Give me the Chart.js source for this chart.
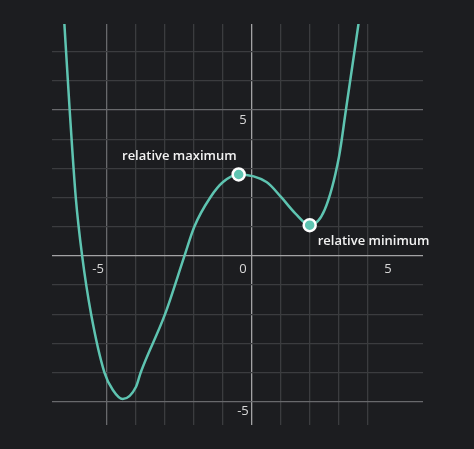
<!DOCTYPE html>
<html>
<head>
<meta charset="utf-8">
<script src="https://cdn.jsdelivr.net/npm/chart.js@4.4.0/dist/chart.umd.min.js"></script>
<style>
  html, body { margin: 0; padding: 0; background: #1c1d20; }
  #wrap { width: 474px; height: 449px; }
</style>
</head>
<body>
<div id="wrap"><canvas id="myChart"></canvas></div>
<script>
// curve
const curveX = [-6.5, -6.29, -6.08, -5.86, -5.55, -5.09, -4.8, -4.46, -4.0, -3.84, -3.0, -2.33, -1.99, -1.44, -1.0, -0.46, 0.5, 1.0, 1.5, 1.99, 2.5, 3.0, 3.24, 3.74];
const curveY = [8.4, 5, 2, 0, -2, -4, -4.6, -4.91, -4.49, -4, -2, 0, 1, 2, 2.53, 2.79, 2.53, 2.02, 1.45, 1.05, 1.56, 3.39, 5, 8.4];

const extremaX = [-0.46, 1.99];
const extremaY = [2.79, 1.05];
const extremaLabels = ['relative maximum', 'relative minimum'];

const xTicks = [-5, 0, 5];
const yTicks = [5, -5];

const teal = '#5ec4b1';

function gridColor(c) {
    const v = c.tick.value;
    if (v === 0) return '#a3a3a5';
    if (!Number.isInteger(v)) return 'rgba(0,0,0,0)';
    if (Math.abs(v) === 5) return '#68696c';
    return '#3b3c3f';
}

const labelsPlugin = {
    id: 'labels',
    afterDatasetsDraw(chart) {
        const c = chart.ctx;
        const xs = chart.scales.x, ys = chart.scales.y;
        c.save();
        c.font = '13px "Open Sans", sans-serif';
        c.fillStyle = '#d8d8d8';
        c.textAlign = 'center';
        c.textBaseline = 'middle';
        xTicks.forEach(v => c.fillText(String(v), xs.getPixelForValue(v) - 9, ys.getPixelForValue(0) + 13));
        yTicks.forEach(v => c.fillText(String(v), xs.getPixelForValue(0) - 9, ys.getPixelForValue(v) + 10));
        c.font = '600 13px "Open Sans", sans-serif';
        c.fillStyle = '#f2f2f2';
        c.textAlign = 'right';
        c.fillText(extremaLabels[0], xs.getPixelForValue(extremaX[0]) - 2, ys.getPixelForValue(extremaY[0]) - 18);
        c.textAlign = 'left';
        c.fillText(extremaLabels[1], xs.getPixelForValue(extremaX[1]) + 8, ys.getPixelForValue(extremaY[1]) + 16);
        c.restore();
    }
};

new Chart(document.getElementById('myChart'), {
    type: 'scatter',
    data: {
        datasets: [
            {
                data: extremaX.map((x, i) => ({ x: x, y: extremaY[i] })),
                pointRadius: 6,
                pointBackgroundColor: teal,
                pointBorderColor: '#ffffff',
                pointBorderWidth: 2.5,
                showLine: false
            },
            {
                data: curveX.map((x, i) => ({ x: x, y: curveY[i] })),
                showLine: true,
                borderColor: teal,
                borderWidth: 2.5,
                pointRadius: 0,
                cubicInterpolationMode: 'monotone'
            }
        ]
    },
    options: {
        responsive: true,
        maintainAspectRatio: false,
        animation: false,
        layout: { padding: { left: 52, right: 51, top: 24, bottom: 24 } },
        plugins: { legend: { display: false }, tooltip: { enabled: false } },
        scales: {
            x: {
                min: -6.9, max: 5.9,
                ticks: { display: false, stepSize: 1 },
                border: { display: false },
                grid: { color: gridColor, lineWidth: 1.3, drawTicks: false }
            },
            y: {
                min: -5.8, max: 7.95,
                ticks: { display: false, stepSize: 1 },
                border: { display: false },
                grid: { color: gridColor, lineWidth: 1.3, drawTicks: false }
            }
        }
    },
    plugins: [labelsPlugin]
});
</script>
</body>
</html>
